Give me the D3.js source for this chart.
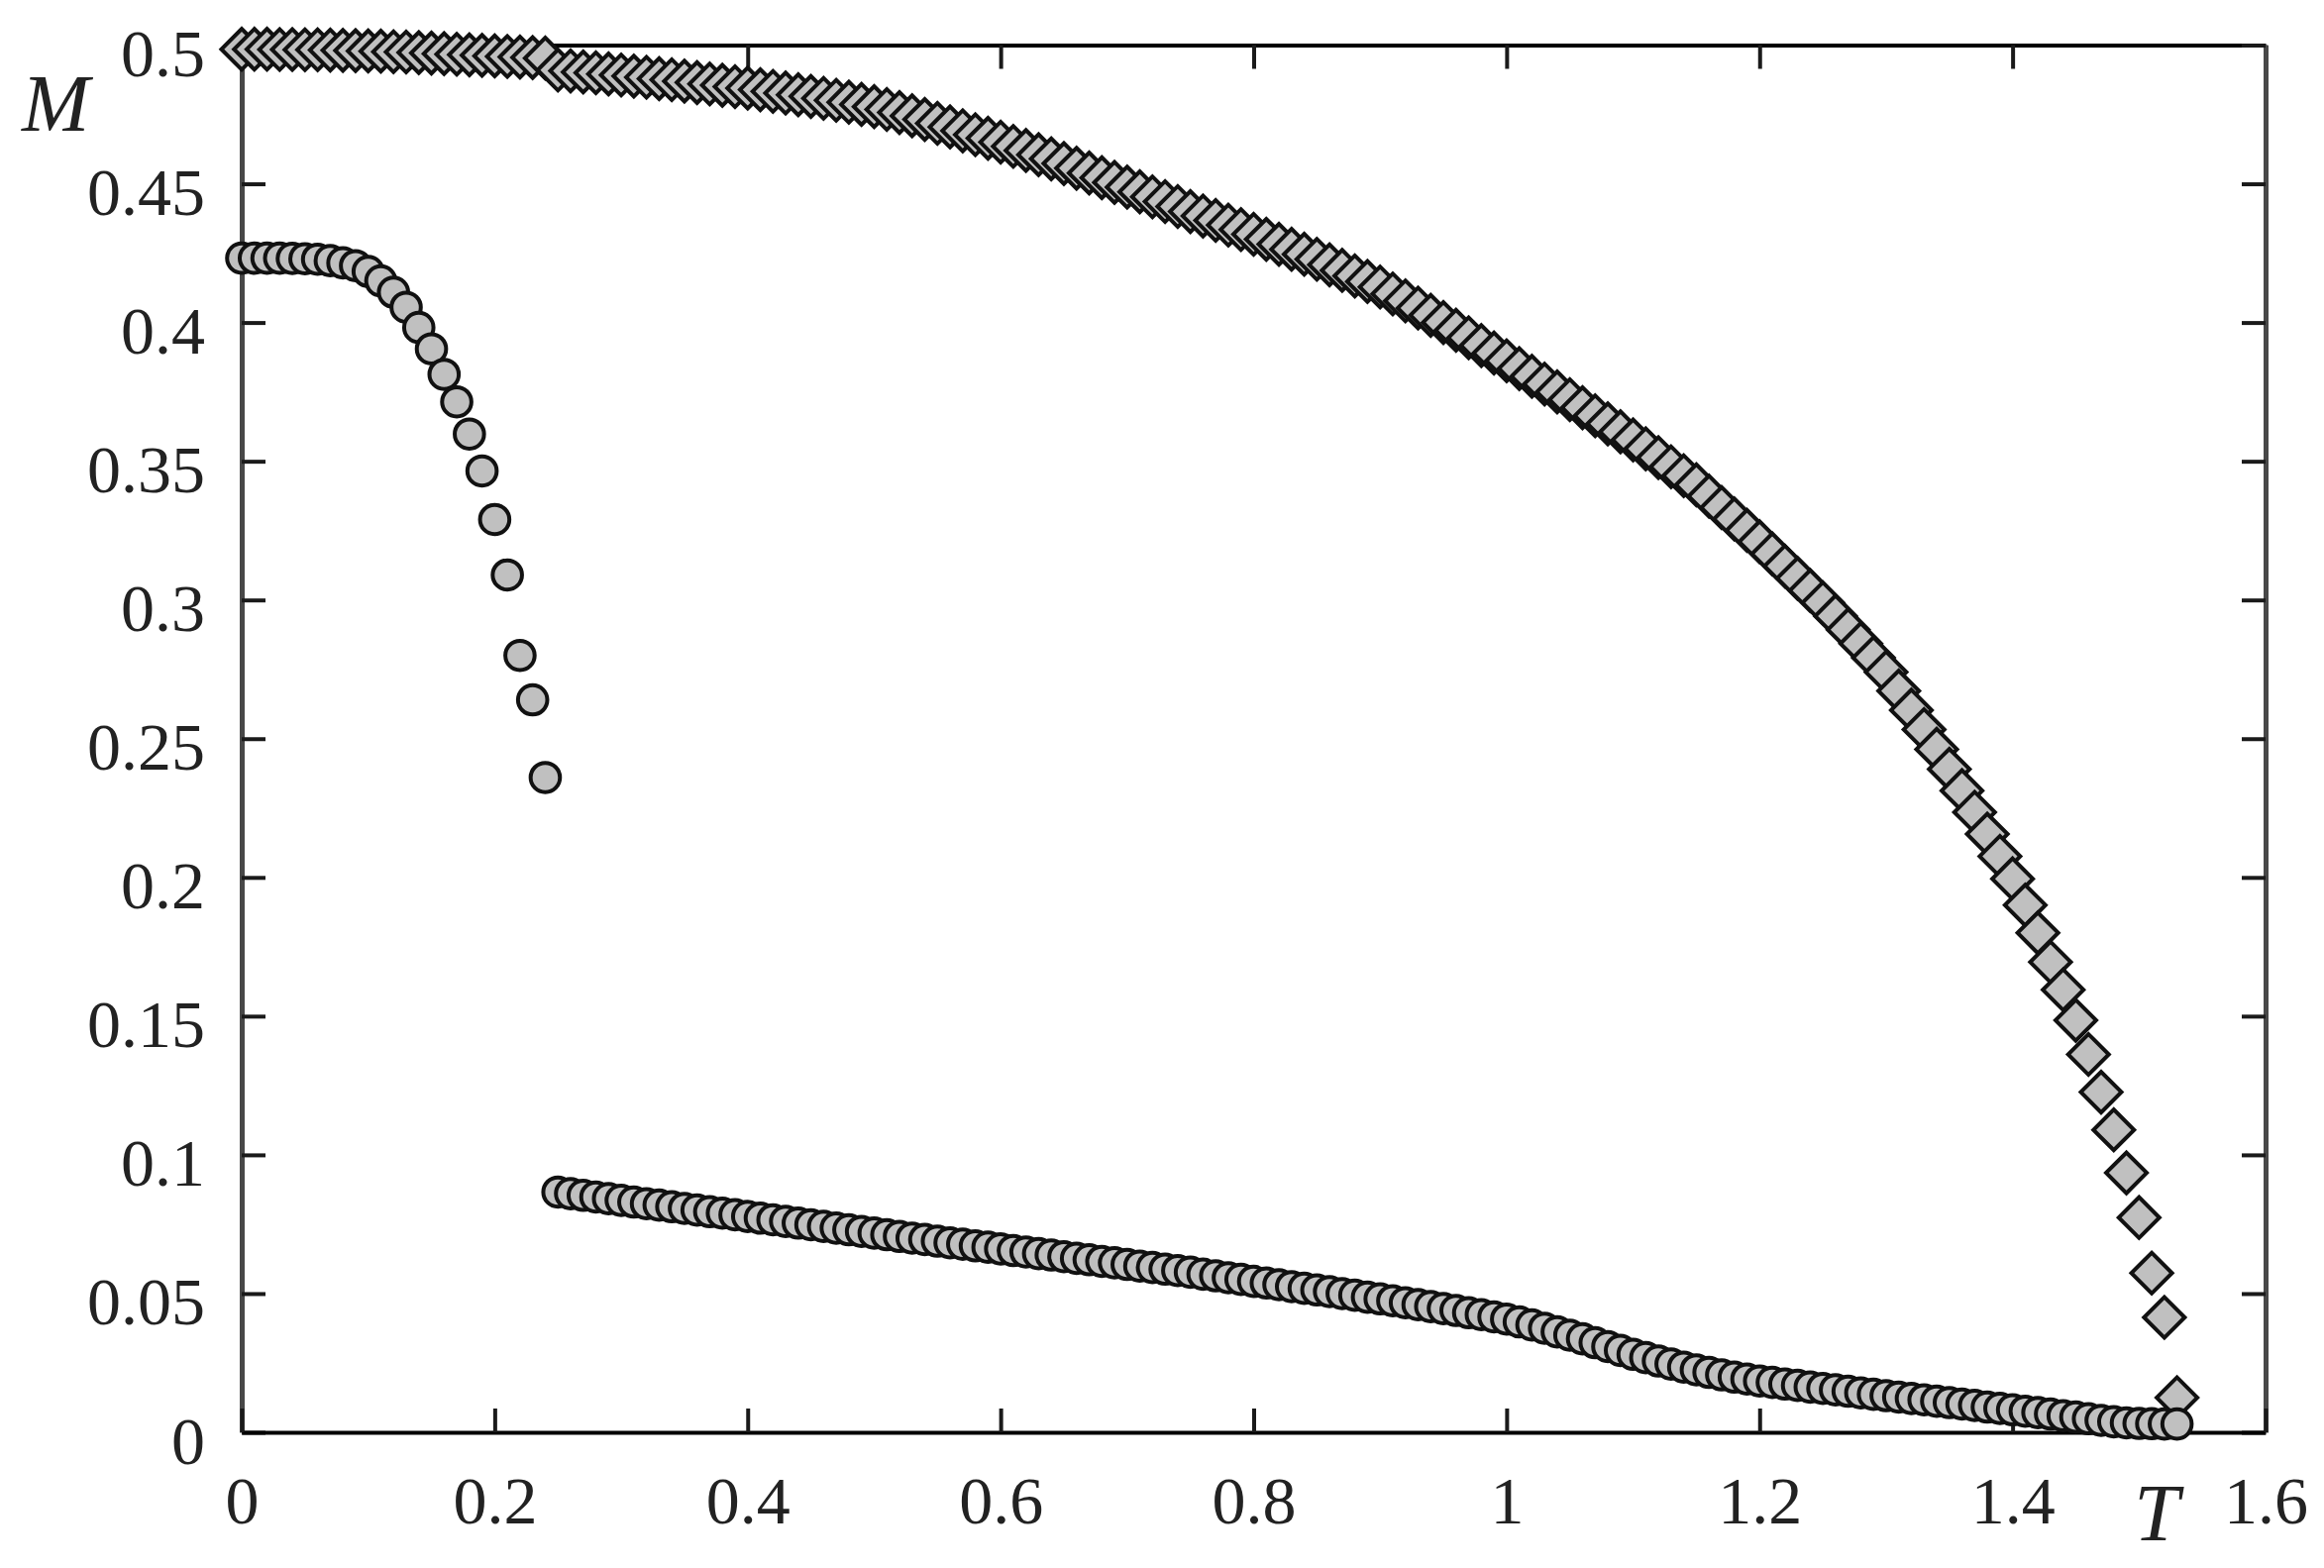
<!DOCTYPE html>
<html>
<head>
<meta charset="utf-8">
<script src="https://cdn.jsdelivr.net/npm/d3@7/dist/d3.min.js"></script>
<style>
  html, body { margin: 0; padding: 0; background: #fff; }
  svg { display: block; }
  text { font-family: "Liberation Serif", "Times New Roman", serif; }
</style>
</head>
<body>
<script>
// ---------------- DATA ----------------
const xTicks = [0, 0.2, 0.4, 0.6, 0.8, 1, 1.2, 1.4, 1.6];
const xTickLabels = ["0", "0.2", "0.4", "0.6", "0.8", "1", "1.2", "1.4", "1.6"];
const yTicks = [0, 0.05, 0.1, 0.15, 0.2, 0.25, 0.3, 0.35, 0.4, 0.45, 0.5];
const yTickLabels = ["0", "0.05", "0.1", "0.15", "0.2", "0.25", "0.3", "0.35", "0.4", "0.45", "0.5"];

// temperatures of the low-T branch (0 .. 0.24) and high-T branch (0.25 .. 1.53)
const tLow = [0.00,0.01,0.02,0.03,0.04,0.05,0.06,0.07,0.08,0.09,0.10,0.11,0.12,0.13,0.14,0.15,0.16,0.17,0.18,0.19,0.20,0.21,0.22,0.23,0.24];
const tHigh = [0.25,0.26,0.27,0.28,0.29,0.30,0.31,0.32,0.33,0.34,0.35,0.36,0.37,0.38,0.39,0.40,0.41,0.42,0.43,0.44,0.45,0.46,0.47,0.48,0.49,
  0.50,0.51,0.52,0.53,0.54,0.55,0.56,0.57,0.58,0.59,0.60,0.61,0.62,0.63,0.64,0.65,0.66,0.67,0.68,0.69,0.70,0.71,0.72,0.73,0.74,
  0.75,0.76,0.77,0.78,0.79,0.80,0.81,0.82,0.83,0.84,0.85,0.86,0.87,0.88,0.89,0.90,0.91,0.92,0.93,0.94,0.95,0.96,0.97,0.98,0.99,
  1.00,1.01,1.02,1.03,1.04,1.05,1.06,1.07,1.08,1.09,1.10,1.11,1.12,1.13,1.14,1.15,1.16,1.17,1.18,1.19,1.20,1.21,1.22,1.23,1.24,
  1.25,1.26,1.27,1.28,1.29,1.30,1.31,1.32,1.33,1.34,1.35,1.36,1.37,1.38,1.39,1.40,1.41,1.42,1.43,1.44,1.45,1.46,1.47,1.48,1.49,
  1.50,1.51,1.52,1.53];

// diamonds (upper magnetization)
const diamondLow = [0.4985,0.4985,0.4985,0.4984,0.4984,0.4983,0.4983,0.4982,0.4981,0.4980,0.4979,0.4978,0.4976,0.4975,0.4973,
  0.4971,0.4969,0.4967,0.4965,0.4963,0.4961,0.4959,0.4957,0.4955,0.4953];
const diamondHigh = [0.4910,0.4907,0.4903,0.4900,0.4896,0.4892,0.4888,0.4884,0.4879,0.4875,0.4870,0.4865,0.4860,0.4855,0.4850,
  0.4845,0.4839,0.4833,0.4827,0.4821,0.4815,0.4808,0.4801,0.4794,0.4786,
  0.4778,0.4768,0.4757,0.4745,0.4732,0.4718,0.4705,0.4691,0.4677,0.4664,0.4650,0.4635,0.4620,0.4605,0.4590,0.4573,0.4556,0.4539,0.4522,0.4505,
  0.4488,0.4471,0.4453,0.4436,0.4418,0.4400,0.4384,0.4368,0.4351,0.4335,0.4318,0.4300,0.4282,0.4264,0.4246,0.4228,0.4208,0.4188,0.4168,0.4148,
  0.4128,0.4103,0.4078,0.4052,0.4026,0.4000,0.3972,0.3945,0.3917,0.3890,0.3862,0.3834,0.3806,0.3778,0.3750,0.3722,0.3693,0.3664,0.3635,0.3606,
  0.3577,0.3545,0.3513,0.3480,0.3448,0.3415,0.3374,0.3333,0.3292,0.3251,0.3210,0.3166,0.3122,0.3078,0.3034,0.2990,0.2942,0.2893,0.2843,0.2792,
  0.2740,0.2672,0.2603,0.2533,0.2462,0.2390,0.2313,0.2235,0.2156,0.2076,0.1995,0.1900,0.1800,0.1695,0.1595,0.1485,0.1362,0.1226,0.1090,0.0935,
  0.0774,0.0574,0.0414,0.0125];

// circles (lower magnetization)
const circleLow = [0.4232,0.4232,0.4232,0.4232,0.4231,0.4230,0.4228,0.4223,0.4215,0.4205,0.4184,0.4150,0.4109,0.4055,0.3982,
  0.3905,0.3813,0.3714,0.3598,0.3465,0.3290,0.3090,0.2800,0.2640,0.2360];
const circleHigh = [0.0866,0.0860,0.0854,0.0848,0.0842,0.0836,0.0830,0.0824,0.0819,0.0813,0.0807,0.0801,0.0795,0.0790,0.0784,
  0.0778,0.0772,0.0766,0.0760,0.0754,0.0748,0.0742,0.0736,0.0730,0.0724,
  0.0718,0.0712,0.0706,0.0700,0.0695,0.0689,0.0683,0.0678,0.0672,0.0667,0.0661,0.0655,0.0650,0.0644,0.0639,0.0633,0.0627,0.0622,0.0616,0.0611,
  0.0605,0.0599,0.0594,0.0588,0.0583,0.0577,0.0570,0.0564,0.0557,0.0551,0.0544,0.0538,0.0532,0.0525,0.0519,0.0513,0.0507,0.0500,0.0494,0.0487,
  0.0481,0.0474,0.0467,0.0460,0.0453,0.0446,0.0439,0.0431,0.0424,0.0416,0.0408,0.0398,0.0387,0.0375,0.0362,0.0350,0.0337,0.0323,0.0309,0.0295,
  0.0281,0.0269,0.0257,0.0246,0.0235,0.0225,0.0216,0.0207,0.0199,0.0192,0.0185,0.0180,0.0174,0.0169,0.0163,0.0158,0.0153,0.0148,0.0142,0.0137,
  0.0132,0.0127,0.0122,0.0117,0.0112,0.0107,0.0102,0.0097,0.0091,0.0086,0.0081,0.0076,0.0071,0.0066,0.0060,0.0055,0.0049,0.0043,0.0038,0.0034,
  0.0032,0.0031,0.0030,0.0030];

const xLabel = "T";
const yLabel = "M";

// ---------------- DRAW ----------------
const W = 2346, H = 1583;
const padL = 244, padR = 2287, padT = 45.5, padB = 1446;

const svg = d3.select("body").append("svg").attr("width", W).attr("height", H);
svg.append("rect").attr("width", W).attr("height", H).attr("fill", "#fff");

const xs = d3.scaleLinear().domain([0, 1.6]).range([padL, padR]);
const ys = d3.scaleLinear().domain([0, 0.5]).range([padB, padT]);

const TICK = 24;
function styleAxis(g, domainColor, domainWidth) {
  g.select(".domain").attr("stroke", domainColor).attr("stroke-width", domainWidth);
  g.selectAll(".tick line").attr("stroke", "#1a1a1a").attr("stroke-width", 4);
}

// top & right (no labels)
const gTop = svg.append("g").attr("transform", `translate(0,${padT})`)
  .call(d3.axisTop(xs).tickValues(xTicks).tickSizeInner(-TICK).tickSizeOuter(0).tickFormat(""));
styleAxis(gTop, "#000", 4);
const gRight = svg.append("g").attr("transform", `translate(${padR},0)`)
  .call(d3.axisRight(ys).tickValues(yTicks).tickSizeInner(-TICK).tickSizeOuter(0).tickFormat(""));
styleAxis(gRight, "#484848", 5);

// left
const gLeft = svg.append("g").attr("transform", `translate(${padL},0)`)
  .call(d3.axisLeft(ys).tickValues(yTicks).tickSizeInner(-TICK).tickSizeOuter(0)
    .tickFormat((d, i) => yTickLabels[i]).tickPadding(37));
styleAxis(gLeft, "#484848", 5);
gLeft.selectAll(".tick text")
  .attr("font-family", '"Liberation Serif", serif')
  .attr("font-size", 68).attr("fill", "#222")
  .attr("dy", null).attr("y", 31);

// bottom
const gBottom = svg.append("g").attr("transform", `translate(0,${padB})`)
  .call(d3.axisBottom(xs).tickValues(xTicks).tickSizeInner(-TICK).tickSizeOuter(0)
    .tickFormat((d, i) => xTickLabels[i]));
styleAxis(gBottom, "#000", 4);
gBottom.selectAll(".tick text")
  .attr("font-family", '"Liberation Serif", serif')
  .attr("font-size", 68).attr("fill", "#222")
  .attr("dy", null).attr("y", 92);

// axis names
svg.append("text").text(yLabel)
  .attr("x", 22).attr("y", 132)
  .attr("font-size", 82).attr("font-style", "italic").attr("fill", "#222");
svg.append("text").text(xLabel)
  .attr("x", 2177).attr("y", 1555).attr("text-anchor", "middle")
  .attr("font-size", 82).attr("font-style", "italic").attr("fill", "#222");

// markers
const FILL = "#c0c0c0", STROKE = "#111", SW = 4;
const diamondPath = d3.symbol(d3.symbolSquare, 29 * 29)();

function drawDiamonds(ts, ms) {
  svg.append("g").selectAll("path").data(ts.map((t, i) => [t, ms[i]])).join("path")
    .attr("d", diamondPath)
    .attr("transform", d => `translate(${xs(d[0])},${ys(d[1])}) rotate(45)`)
    .attr("fill", FILL).attr("stroke", STROKE).attr("stroke-width", SW);
}
function drawCircles(ts, ms) {
  svg.append("g").selectAll("circle").data(ts.map((t, i) => [t, ms[i]])).join("circle")
    .attr("cx", d => xs(d[0])).attr("cy", d => ys(d[1])).attr("r", 14.8)
    .attr("fill", FILL).attr("stroke", STROKE).attr("stroke-width", SW);
}

drawDiamonds(tLow, diamondLow);
drawDiamonds(tHigh, diamondHigh);
drawCircles(tLow, circleLow);
drawCircles(tHigh, circleHigh);
</script>
</body>
</html>
